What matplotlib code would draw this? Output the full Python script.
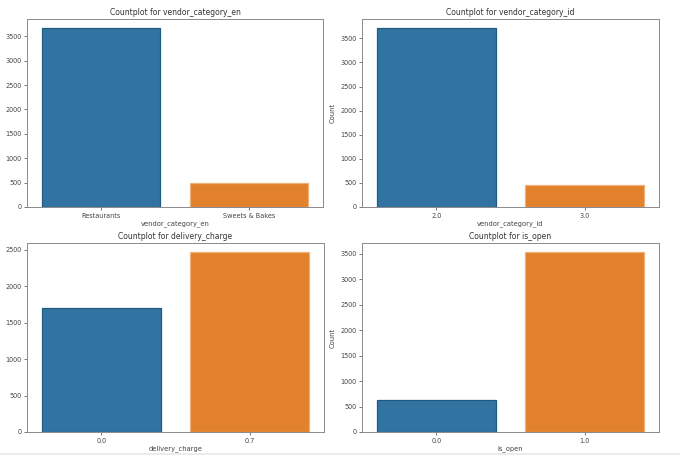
import matplotlib.pyplot as plt

# conteos
cat_en = ['Restaurants', 'Sweets & Bakes']
cat_en_n = [3672, 495]

cat_id = ['2.0', '3.0']
cat_id_n = [3716, 451]

delivery = ['0.0', '0.7']
delivery_n = [1700, 2467]

is_open = ['0.0', '1.0']
is_open_n = [628, 3539]

colores = ['#3274a1', '#e1812c']
bordes = ['#1d5a86', '#f0b07a']

fig = plt.figure(figsize=(6.8, 4.59), dpi=100)

# linea gris del pie de la captura (detras de todo)
W, H = 680, 459
fig.add_artist(plt.Line2D([0, 1], [1 - 454 / H, 1 - 454 / H],
                          color='#e8e8e8', lw=1.2, zorder=-5))

# posiciones de los ejes en pixeles (x0, y0, x1, y1) del original
cajas = [(27, 19, 323, 207), (362, 19, 659, 207),
         (27, 243, 324, 432), (362, 243, 659, 432)]
datos = [(cat_en, cat_en_n, 'vendor_category_en'),
         (cat_id, cat_id_n, 'vendor_category_id'),
         (delivery, delivery_n, 'delivery_charge'),
         (is_open, is_open_n, 'is_open')]

for (x0, y0, x1, y1), (cats, n, nombre) in zip(cajas, datos):
    ax = fig.add_axes([x0 / W, 1 - y1 / H, (x1 - x0) / W, (y1 - y0) / H])
    pos = range(len(cats))
    ax.bar(pos, n, width=0.8, color=colores, edgecolor=bordes, linewidth=0.9)
    ax.set_xlim(-0.5, len(cats) - 0.5)
    ax.set_ylim(0, max(n) * 1.05)
    ax.set_xticks(list(pos))
    ax.set_xticklabels(cats)
    ax.set_title('Countplot for ' + nombre, fontsize=5.5, color='#333333', pad=3)
    ax.set_xlabel(nombre, fontsize=4.9, color='#444444', labelpad=1.5)
    ax.set_ylabel('Count', fontsize=4.9, color='#444444', labelpad=3)
    ax.tick_params(labelsize=4.7, colors='#444444', length=2, width=0.5, pad=2)
    for s in ax.spines.values():
        s.set_color('#8a8a8a')
        s.set_linewidth(0.7)

fig.savefig('out.png', dpi=100)
